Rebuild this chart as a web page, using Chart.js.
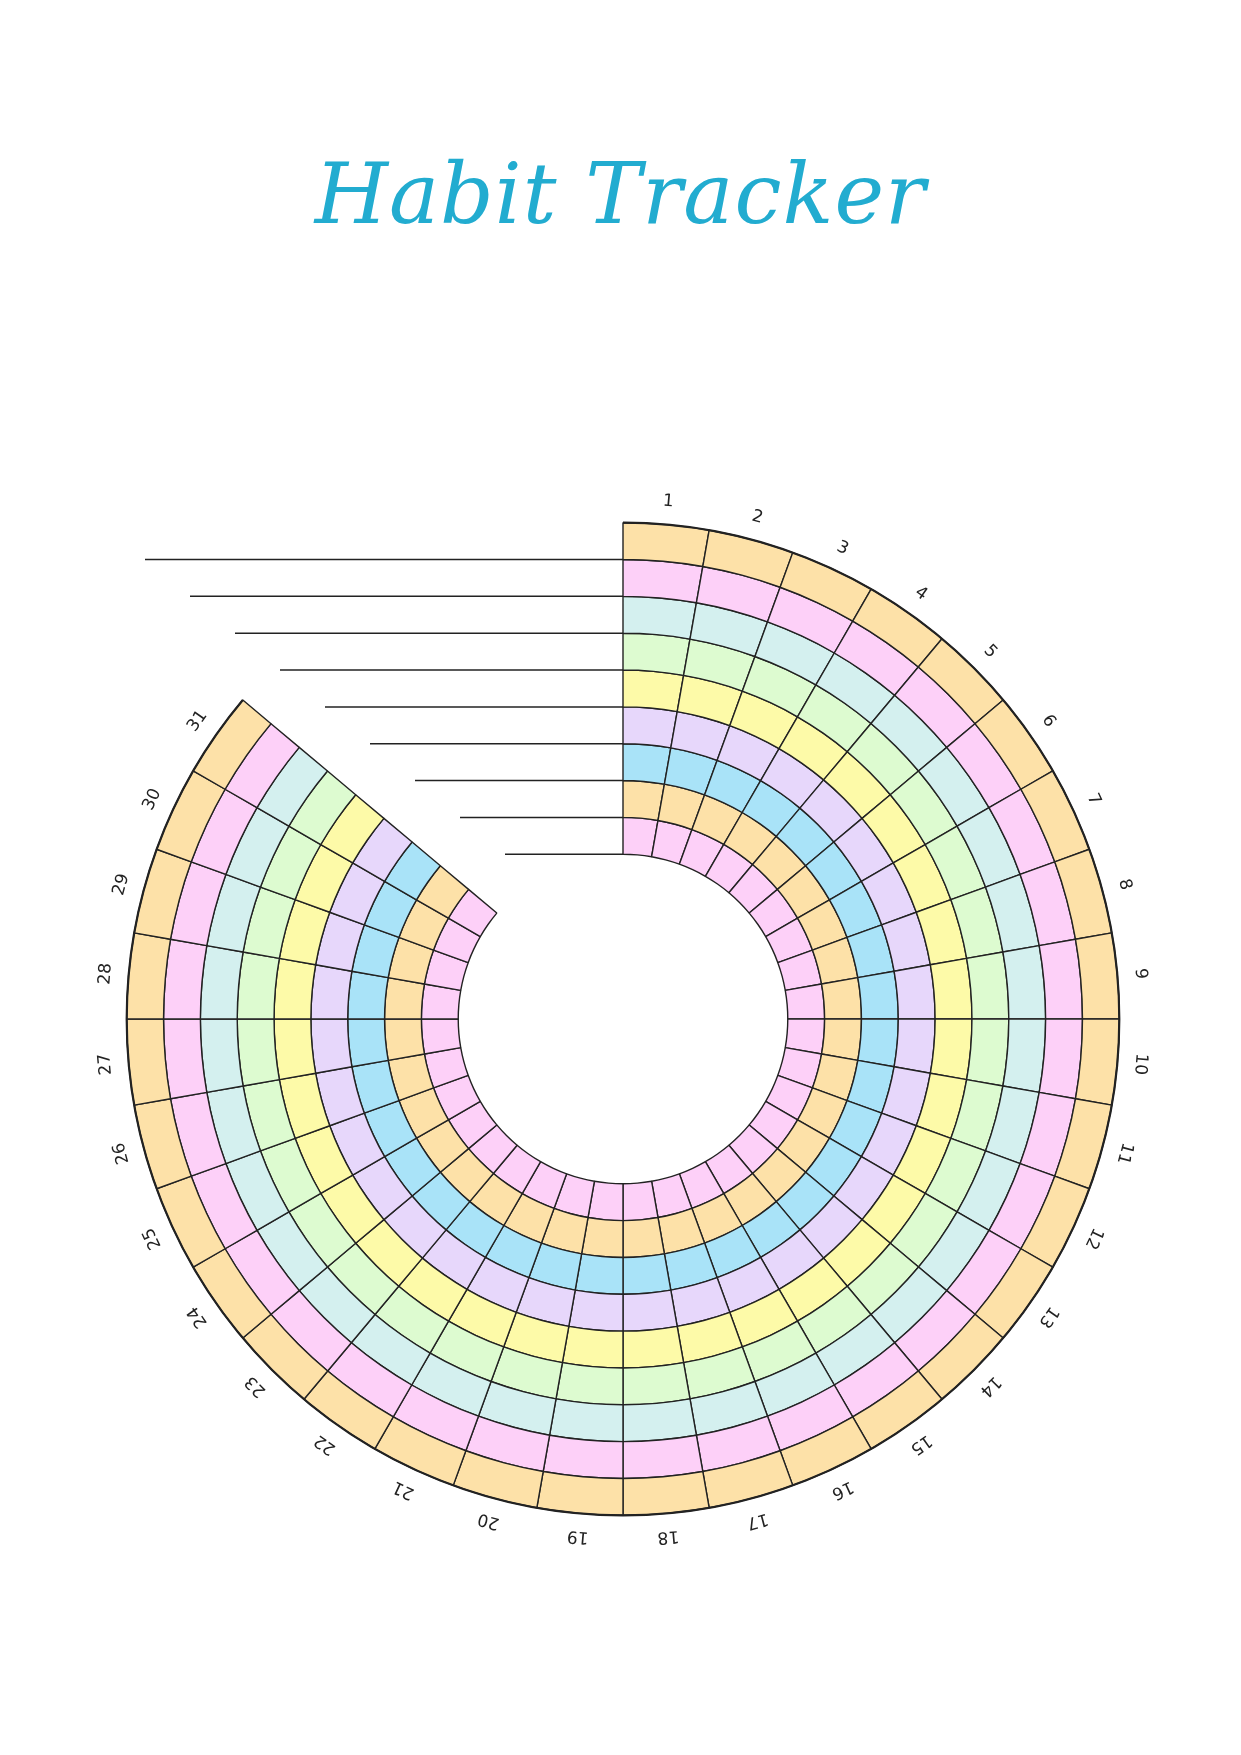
<!DOCTYPE html>
<html>
<head>
    <title>Habit Tracker</title>
    <script src="https://cdn.jsdelivr.net/npm/chart.js"></script>
    <style>
        body { margin: 0; background: #fff; width: 1241px; height: 1755px; position: relative; overflow: hidden; }
        h1 { position: absolute; top: 145px; left: 0; width: 1241px; text-align: center; margin: 0;
             font-family: "DejaVu Serif", serif; font-style: italic; font-weight: normal;
             font-size: 84px; color: #22acd0; letter-spacing: 1px; }
    </style>
</head>
<body>
<h1>Habit Tracker</h1>
<div style="position: absolute; left: 0; top: 0; width: 1241px; height: 1755px;">
    <canvas id="Tracker" width="1241" height="1755"></canvas>
</div>
<script>
    const days = Array.from({length: 31}, (_, i) => String(i + 1));
    const ring_colors = ['#fde1a8', '#fdd0f8', '#d4f0ef', '#ddfbd0', '#fdfaa8', '#e7d7fb', '#a9e3f8', '#fde1a8', '#fdd0f8'];
    const cell_values = new Array(31).fill(1);

    const labels_and_lines = {
        id: 'labels_and_lines',
        afterDraw(chart) {
            const ctx = chart.ctx;
            const outer = chart.getDatasetMeta(0).data;
            const cx = outer[0].x, cy = outer[0].y, R = outer[0].outerRadius;
            ctx.save();
            // outer edge a bit heavier
            ctx.strokeStyle = '#222';
            ctx.lineWidth = 2.2;
            ctx.beginPath();
            ctx.arc(cx, cy, R, outer[0].startAngle, outer[outer.length - 1].endAngle);
            ctx.stroke();
            // habit name lines
            ctx.lineWidth = 1.5;
            ring_colors.forEach((c, i) => {
                const arc = chart.getDatasetMeta(i).data[0];
                const y = cy - arc.innerRadius;
                ctx.beginPath();
                ctx.moveTo(cx, y);
                ctx.lineTo(cx - (118 + (ring_colors.length - 1 - i) * 45), y);
                ctx.stroke();
            });
            // day numbers
            ctx.fillStyle = '#222';
            ctx.font = '17px "DejaVu Sans"';
            ctx.textAlign = 'center';
            ctx.textBaseline = 'middle';
            outer.forEach((arc, i) => {
                const a = (arc.startAngle + arc.endAngle) / 2;
                const r = R + 23;
                ctx.save();
                ctx.translate(cx + r * Math.cos(a), cy + r * Math.sin(a));
                ctx.rotate(a + Math.PI / 2);
                ctx.fillText(days[i], 0, 0);
                ctx.restore();
            });
            ctx.restore();
        }
    };

    new Chart(document.getElementById('Tracker'), {
        type: 'doughnut',
        data: {
            labels: days,
            datasets: ring_colors.map(c => ({
                data: cell_values,
                backgroundColor: c,
                borderColor: '#222',
                borderWidth: 1.4
            }))
        },
        options: {
            responsive: false,
            animation: false,
            rotation: 0,
            circumference: 310,
            cutout: '33.2%',
            layout: { padding: { left: 126, right: 121, top: 522, bottom: 239 } },
            plugins: { legend: { display: false }, tooltip: { enabled: false } }
        },
        plugins: [labels_and_lines]
    });
</script>
</body>
</html>
